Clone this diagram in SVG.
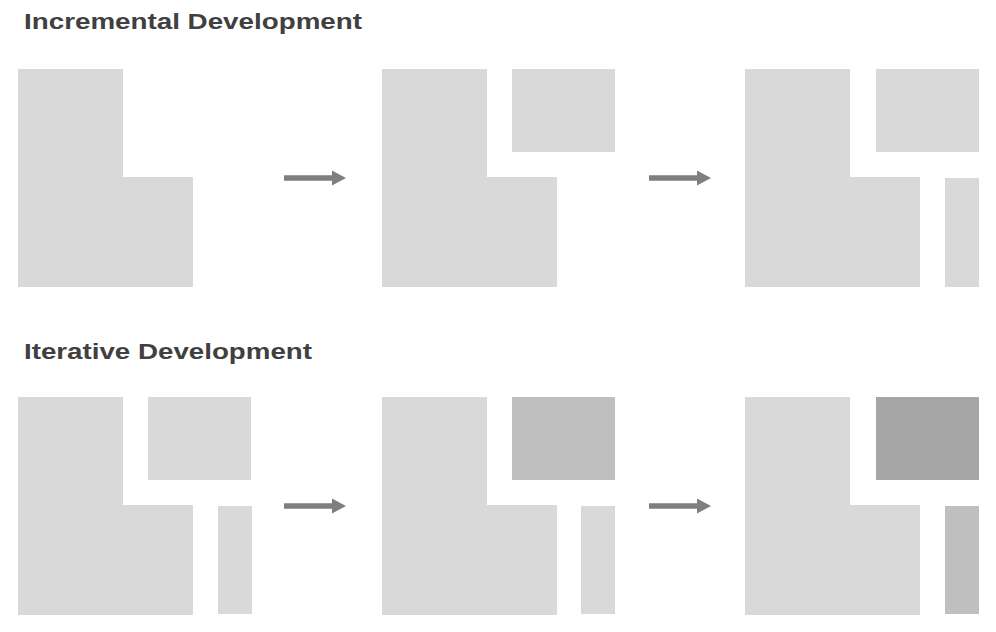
<svg xmlns="http://www.w3.org/2000/svg" width="996" height="632" viewBox="0 0 996 632">
<defs>
<style>
.t{font-family:"Liberation Sans",Arial,sans-serif;font-weight:bold;font-size:22px;fill:#404040}
.l{fill:#d9d9d9}
.m{fill:#bfbfbf}
.d{fill:#a6a6a6}
.a{fill:#7f7f7f}
</style>
<path id="L" d="M0 0H105V108H175V218H0Z"/>
<path id="arr" d="M0 -2.8H48V-7.5L62 0L48 7.5V2.8H0Z"/>
</defs>
<rect width="996" height="632" fill="#fff"/>
<text class="t" x="24" y="29" textLength="338" lengthAdjust="spacingAndGlyphs">Incremental Development</text>
<text class="t" x="24" y="359" textLength="288" lengthAdjust="spacingAndGlyphs">Iterative Development</text>
<g id="inc1"><use href="#L" x="18" y="69" class="l"/></g>
<g id="inc2"><use href="#L" x="382" y="69" class="l"/><rect class="l" x="512" y="69" width="103" height="83"/></g>
<g id="inc3"><use href="#L" x="745" y="69" class="l"/><rect class="l" x="876" y="69" width="103" height="83"/><rect class="l" x="945" y="178" width="34" height="109"/></g>
<g id="it1"><use href="#L" x="18" y="397" class="l"/><rect class="l" x="148" y="397" width="103" height="83"/><rect class="l" x="218" y="506" width="34" height="108"/></g>
<g id="it2"><use href="#L" x="382" y="397" class="l"/><rect class="m" x="512" y="397" width="103" height="83"/><rect class="l" x="581" y="506" width="34" height="108"/></g>
<g id="it3"><use href="#L" x="745" y="397" class="l"/><rect class="d" x="876" y="397" width="103" height="83"/><rect class="m" x="945" y="506" width="34" height="108"/></g>
<g id="connectors">
<use href="#arr" class="a" x="284" y="178"/>
<use href="#arr" class="a" x="649" y="178"/>
<use href="#arr" class="a" x="284" y="506"/>
<use href="#arr" class="a" x="649" y="506"/>
</g>
</svg>
